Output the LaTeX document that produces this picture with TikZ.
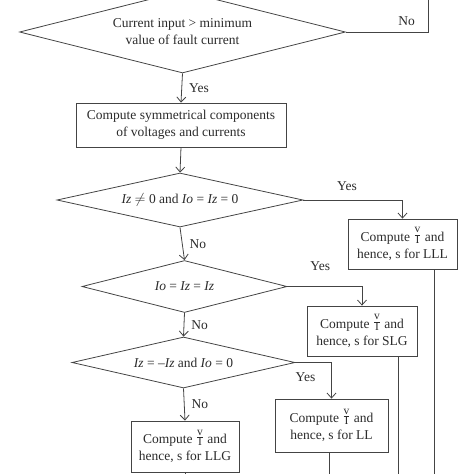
\documentclass[tikz,border=0pt]{standalone}
\usepackage{fontspec}
\setmainfont{Liberation Serif}
\usepackage{amsmath}
\usetikzlibrary{shapes.geometric,arrows.meta,positioning}
\definecolor{FL}{HTML}{444444}
\definecolor{FT}{HTML}{2B2B2B}

\newcommand{\voi}{\raisebox{3pt}{$\genfrac{}{}{0.5pt}{1}{\text{\fontsize{11.5}{11.5}\selectfont v}}{\text{\fontsize{11.5}{11.5}\selectfont I}}$}}

\tikzset{
  decision/.style={draw=FL, line width=0.8pt, diamond, inner sep=0pt},
  dtext/.style={text=FT, align=center, inner sep=0pt},
  process/.style={draw=FL, line width=0.8pt, rectangle, inner sep=0pt,
    align=center, text=FT},
  flow/.style={draw=FL, line width=0.8pt},
  arr/.style={flow, -{Straight Barb[length=5pt,width=9pt]}},
  lbl/.style={text=FT, inner sep=2pt}
}

\begin{document}
\begin{tikzpicture}[x=1pt,y=-1pt,font=\fontsize{13.5}{17}\selectfont]
        \useasboundingbox (0,0) rectangle (474,474);
        \clip (0,0) rectangle (474,474);

        % main trunk
        \node[decision, minimum width=326pt, minimum height=82pt,
              label={[dtext]center:{Current input > minimum\\value of fault current}}]
              (check) at (182.5,32) {};
        \node[process, minimum width=210pt, minimum height=44pt] (symm) at (181,125)
          {Compute symmetrical components\\of voltages and currents};
        \node[decision, minimum width=246pt, minimum height=54pt,
              label={[dtext]center:{\textit{Iz}~$\neq$~0 and \textit{Io} = \textit{Iz} = 0}}]
              (dlll) at (180,200) {};
        \node[decision, minimum width=205pt, minimum height=52pt,
              label={[dtext]center:{\textit{Io} = \textit{Iz} = \textit{Iz}}}]
              (dslg) at (184.5,286.5) {};
        \node[decision, minimum width=223pt, minimum height=51pt,
              label={[dtext]center:{\textit{Iz} = --\textit{Iz} and \textit{Io} = 0}}]
              (dll) at (183.5,362.5) {};

        % result boxes
        \node[process, minimum width=109pt, minimum height=50pt] (lll) at (402.5,244)
          {Compute \voi{} and\\hence, s for LLL};
        \node[process, minimum width=110pt, minimum height=50pt] (slg) at (362,331)
          {Compute \voi{} and\\hence, s for SLG};
        \node[process, minimum width=113pt, minimum height=53pt] (ll) at (331.5,425.5)
          {Compute \voi{} and\\hence, s for LL};
        \node[process, minimum width=108pt, minimum height=51pt] (llg) at (185,446.5)
          {Compute \voi{} and\\hence, s for LLG};

        \coordinate (loop) at (428,-20);
        \coordinate (outlll) at (434,480);
        \coordinate (outslg) at (398,480);
        \coordinate (outll) at (329,480);
        \coordinate (outllg) at (185,480);

        % connectors
        \draw[flow] (check.east) -| node[lbl, pos=0.37, above, yshift=4pt] {No} (loop);
        \draw[arr] (check.south) -- node[lbl, right, xshift=5pt] {Yes} (symm.north);
        \draw[arr] (symm.south) -- (dlll.north);
        \draw[arr] (dlll.east) -| node[lbl, pos=0.22, above, yshift=7pt] {Yes} (lll.north);
        \draw[arr] (dlll.south) -- node[lbl, right, xshift=5pt] {No} (dslg.north);
        \draw[arr] (dslg.east) -| node[lbl, pos=0.22, above, yshift=13pt] {Yes} (slg.north);
        \draw[arr] (dslg.south) -- node[lbl, right, xshift=5pt] {No} (dll.north);
        \draw[arr] (dll.east) -| node[lbl, pos=0.14, below, yshift=-8pt] {Yes} (ll.north);
        \draw[arr] (dll.south) -- node[lbl, right, xshift=5pt] {No} (llg.north);

        \draw[flow] (lll.south -| outlll) -- (outlll);
        \draw[flow] (slg.south -| outslg) -- (outslg);
        \draw[flow] (ll.south -| outll) -- (outll);
        \draw[flow] (llg.south) -- (outllg);
      \end{tikzpicture}
\end{document}
